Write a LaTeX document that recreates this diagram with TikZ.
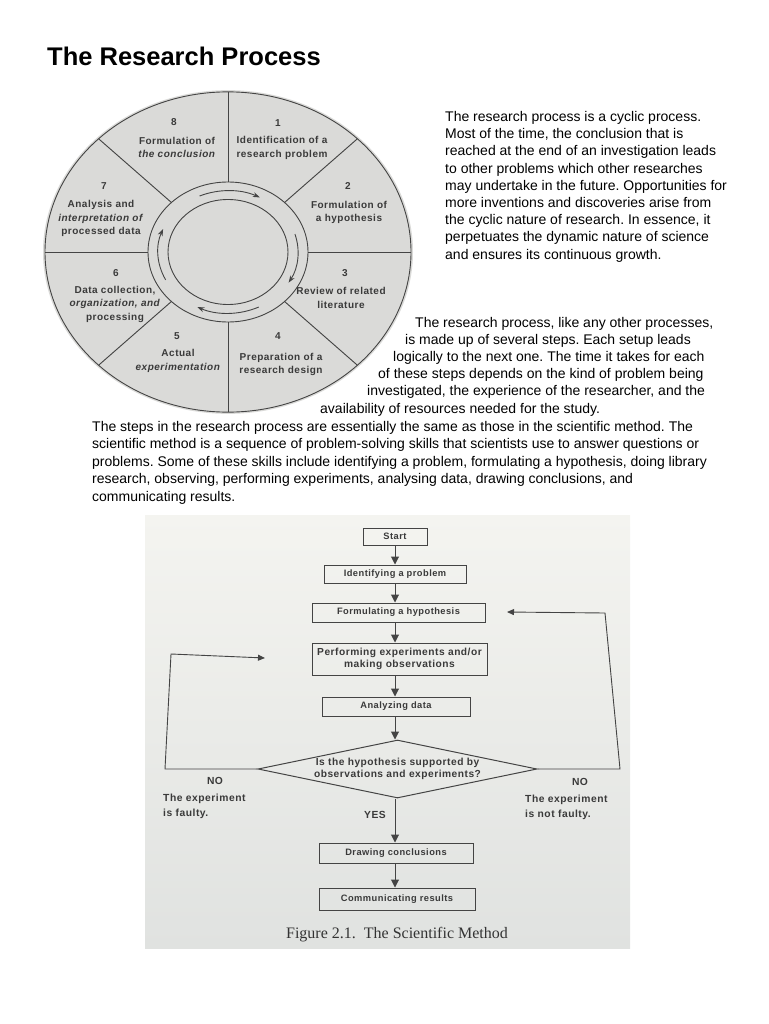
\documentclass[tikz,border=0pt]{standalone}
\usepackage{fontspec}
\setmainfont{Liberation Sans}
\newfontfamily\scanfont{Liberation Sans}[LetterSpace=5]
\newfontfamily\capfont{Liberation Serif}
\usetikzlibrary{arrows.meta,shapes.geometric}
\definecolor{scangrey}{HTML}{DADAD8}
\definecolor{photolight}{HTML}{F4F4F0}
\definecolor{photodark}{HTML}{E0E2E0}
\definecolor{inkgrey}{HTML}{444444}
\definecolor{textgrey}{HTML}{3A3A3A}
\definecolor{capink}{HTML}{333333}
\frenchspacing
\tikzset{
  bodyline/.style={anchor=base west, inner sep=0pt, font=\fontsize{14}{17}\selectfont},
  ring/.style={draw=inkgrey, line width=0.9pt},
  ringarrow/.style={draw=inkgrey, line width=0.9pt, -{Stealth[length=7pt,width=5pt]}},
  secnum/.style={inner sep=0pt, font=\scanfont\bfseries\fontsize{10}{13}\selectfont, text=textgrey},
  sectext/.style={inner sep=0pt, align=center, font=\scanfont\bfseries\fontsize{10}{13.5}\selectfont, text=textgrey},
  fbox/.style={draw=inkgrey, line width=1pt, inner sep=0pt, align=center,
               font=\scanfont\bfseries\fontsize{9.3}{12.3}\selectfont, text=textgrey},
  bigtext/.style={font=\scanfont\bfseries\fontsize{10.2}{12.3}\selectfont},
  flarrow/.style={draw=inkgrey, line width=1pt, -{Triangle[length=8pt,width=8pt]}},
  looparrow/.style={draw=inkgrey, line width=0.9pt, -{Triangle[length=7pt,width=6pt]}},
  flabel/.style={inner sep=0pt, align=left, font=\scanfont\bfseries\fontsize{10.3}{15}\selectfont, text=textgrey}
}
\begin{document}
\begin{tikzpicture}[x=1pt,y=-1pt]
\useasboundingbox (0,0) rectangle (768,1024);

% Title
\node[anchor=base west, inner sep=0pt, font=\fontsize{25.5}{30}\selectfont\bfseries] (title) at (47,66) {The Research Process};

% Circle diagram (scanned)
\begin{scope}[shift={(228,252)}, yscale=-0.875]
  \fill[scangrey] (0,0) circle[radius=185];
  \draw[ring] (0,0) circle[radius=183];
  \draw[ring] (0,0) circle[radius=80];
  \draw[ring] (0,0) circle[radius=60];
  \foreach \a in {0,45,...,315} \draw[ring] (\a:80) -- (\a:183);
  \draw[ringarrow] (114:70) arc[start angle=114, end angle=63, radius=70];
  \draw[ringarrow] (17:70) arc[start angle=17, end angle=-30, radius=70];
  \draw[ringarrow] (-64:70) arc[start angle=-64, end angle=-116, radius=70];
  \draw[ringarrow] (207:70) arc[start angle=207, end angle=158, radius=70];
\end{scope}

\node[secnum] (n8) at (174,122) {8};
\node[sectext] (s8) at (177,147.5) {Formulation of\\\textit{the conclusion}};
\node[secnum] (n1) at (278,123) {1};
\node[sectext] (s1) at (282,148) {Identification of a\\research problem};
\node[secnum] (n2) at (348,186) {2};
\node[sectext] (s2) at (349,212.5) {Formulation of\\a hypothesis};
\node[secnum] (n3) at (345,273) {3};
\node[sectext] (s3) at (341,298) {Review of related\\literature};
\node[secnum] (n4) at (278,336) {4};
\node[sectext] (s4) at (281,364.5) {Preparation of a\\research design};
\node[secnum] (n5) at (177,336) {5};
\node[sectext] (s5) at (178,361) {Actual\\\textit{experimentation}};
\node[secnum] (n6) at (116,273) {6};
\node[sectext] (s6) at (115,304) {Data collection,\\\textit{organization, and}\\processing};
\node[secnum] (n7) at (104,186) {7};
\node[sectext] (s7) at (101,218.5) {Analysis and\\\textit{interpretation of}\\processed data};

% Paragraph 1
\node[bodyline] (p1a) at (445,121.5) {The research process is a cyclic process.};
\node[bodyline] (p1b) at (445,138.7) {Most of the time, the conclusion that is};
\node[bodyline] (p1c) at (445,155.9) {reached at the end of an investigation leads};
\node[bodyline] (p1d) at (445,173.1) {to other problems which other researches};
\node[bodyline] (p1e) at (445,190.3) {may undertake in the future. Opportunities for};
\node[bodyline] (p1f) at (445,207.5) {more inventions and discoveries arise from};
\node[bodyline] (p1g) at (445,224.7) {the cyclic nature of research. In essence, it};
\node[bodyline] (p1h) at (445,241.9) {perpetuates the dynamic nature of science};
\node[bodyline] (p1i) at (445,259.1) {and ensures its continuous growth.};

% Paragraph 2
\node[bodyline] (p2a) at (415,327) {The research process, like any other processes,};
\node[bodyline] (p2b) at (405,344.2) {is made up of several steps. Each setup leads};
\node[bodyline] (p2c) at (393,361.4) {logically to the next one. The time it takes for each};
\node[bodyline] (p2d) at (378,378.6) {of these steps depends on the kind of problem being};
\node[bodyline] (p2e) at (367,395.8) {investigated, the experience of the researcher, and the};
\node[bodyline] (p2f) at (320,413) {availability of resources needed for the study.};

% Paragraph 3
\node[bodyline] (p3a) at (92,431) {The steps in the research process are essentially the same as those in the scientific method. The};
\node[bodyline] (p3b) at (92,448.6) {scientific method is a sequence of problem-solving skills that scientists use to answer questions or};
\node[bodyline] (p3c) at (92,466.2) {problems. Some of these skills include identifying a problem, formulating a hypothesis, doing library};
\node[bodyline] (p3d) at (92,483.8) {research, observing, performing experiments, analysing data, drawing conclusions, and};
\node[bodyline] (p3e) at (92,501.4) {communicating results.};

% Flowchart photo background
\shade[top color=photolight, bottom color=photodark] (145,515) rectangle (630,948);

% Flowchart
\node[fbox, minimum width=64pt, minimum height=17pt] (start) at (395,536.5) {Start};
\node[fbox, minimum width=142pt, minimum height=18pt] (ident) at (395,574) {Identifying a problem};
\node[fbox, minimum width=173pt, minimum height=19pt] (formul) at (398.5,612.5) {Formulating a hypothesis};
\node[fbox, bigtext, minimum width=175pt, minimum height=32pt] (perform) at (399.5,659) {Performing experiments and/or\\making observations};
\node[fbox, minimum width=148pt, minimum height=19pt] (analyz) at (396,706.5) {Analyzing data};
\node[fbox, bigtext, shape=diamond, aspect=4.8, minimum width=279pt, minimum height=58pt] (dia) at (397.5,769) {Is the hypothesis supported by\\observations and experiments?};
\node[fbox, minimum width=154pt, minimum height=20pt] (drawc) at (396,853) {Drawing conclusions};
\node[fbox, minimum width=156pt, minimum height=22pt] (comm) at (397,899) {Communicating results};

\draw[flarrow] (start) -- (ident);
\draw[flarrow] (ident) -- (ident |- formul.north);
\draw[flarrow] (formul.south -| ident) -- (ident |- perform.north);
\draw[flarrow] (perform.south -| ident) -- (ident |- analyz.north);
\draw[flarrow] (analyz.south -| ident) -- (ident |- dia.north);
\draw[flarrow] (dia.south -| ident) -- (ident |- drawc.north);
\draw[flarrow] (drawc.south -| ident) -- (ident |- comm.north);

\coordinate (L1) at (165,769);
\coordinate (L2) at (171,654);
\coordinate (Lend) at (265,658);
\draw[looparrow] (dia.west) -- (L1) -- (L2) -- (Lend);
\coordinate (R1) at (620,769);
\coordinate (R2) at (605,613);
\coordinate (Rend) at (507,612);
\draw[looparrow] (dia.east) -- (R1) -- (R2) -- (Rend);

\node[flabel] (noL) at (215,781) {NO};
\node[flabel, anchor=west] (faulty) at (163,806.5) {The experiment\\is faulty.};
\node[flabel] (yes) at (375,815) {YES};
\node[flabel] (noR) at (580,782) {NO};
\node[flabel, anchor=west] (notfaulty) at (525,807) {The experiment\\is not faulty.};

\node[inner sep=0pt, text=capink, font=\capfont\fontsize{16}{19}\selectfont] (caption) at (397,935) {Figure 2.1.\ \ The Scientific Method};
\end{tikzpicture}
\end{document}
